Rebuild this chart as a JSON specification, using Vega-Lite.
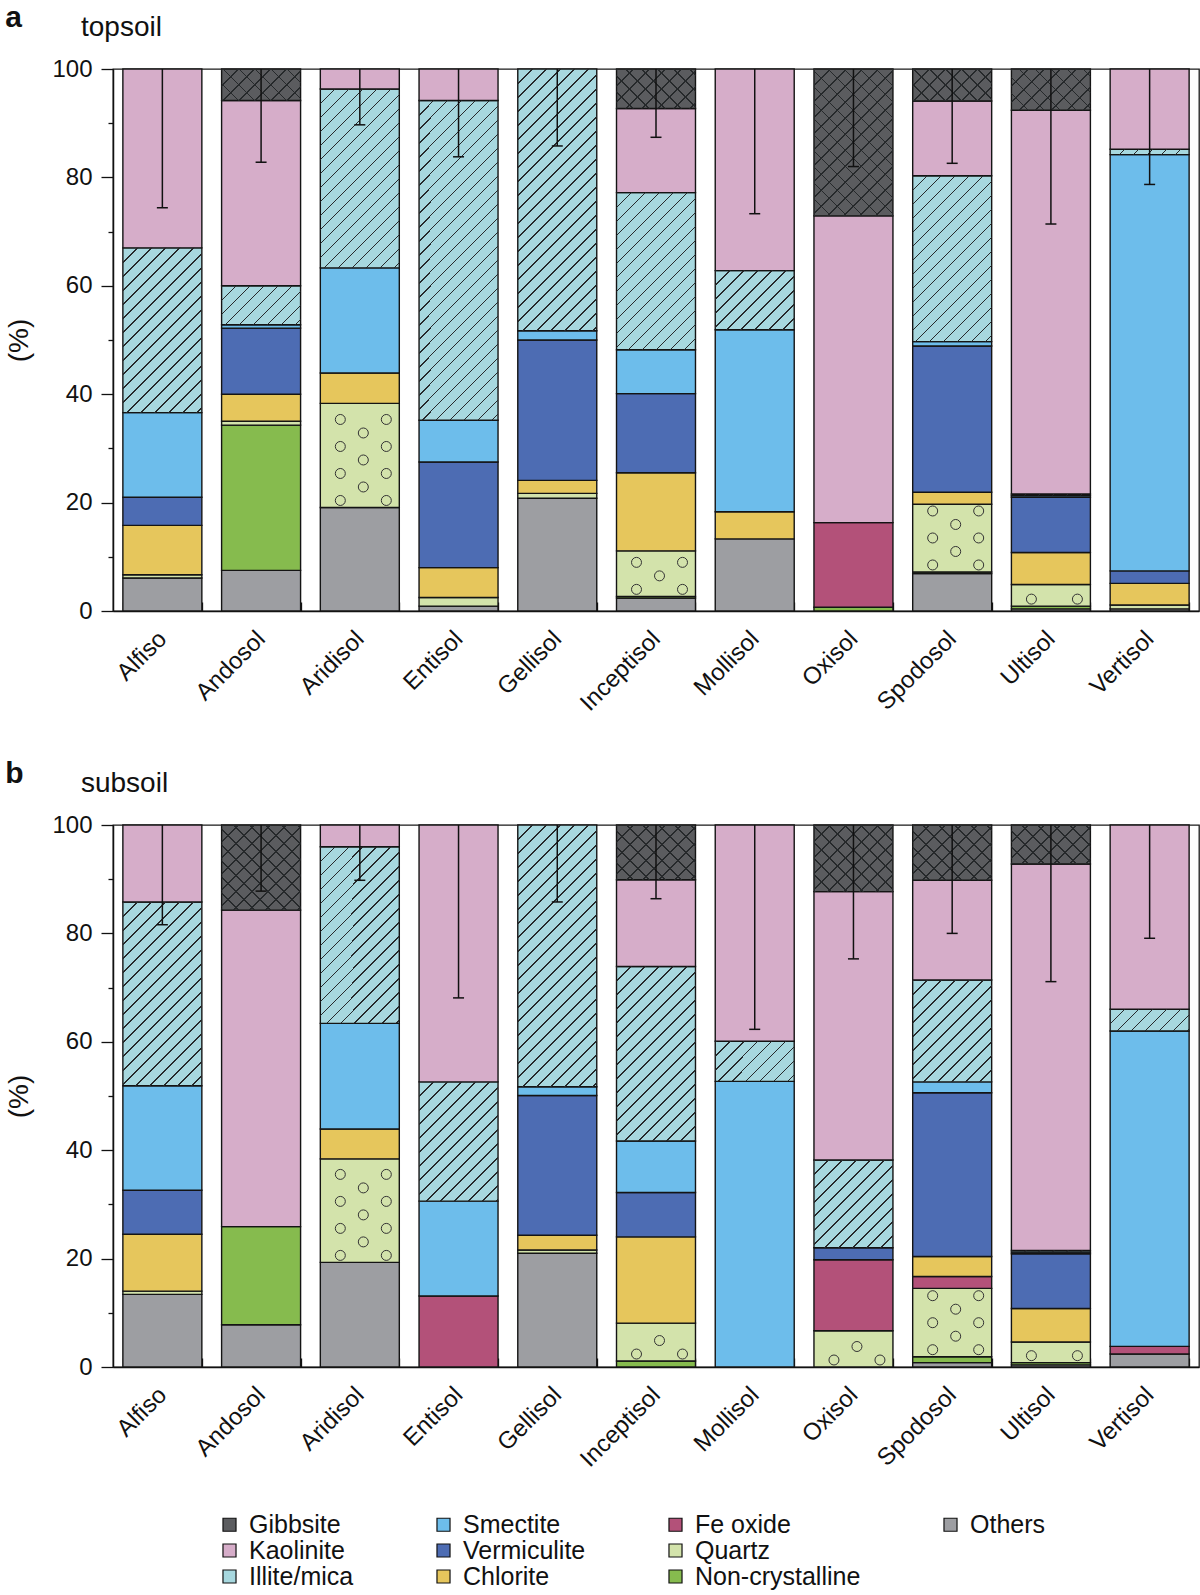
{
  "$schema": "https://vega.github.io/schema/vega-lite/v6.json",
  "padding": {"left": 5, "top": 3, "right": 0, "bottom": 0},
  "background": "white",
  "spacing": 43,
  "config": {
    "font": "Liberation Sans",
    "view": {"stroke": "#1a1a1a", "strokeWidth": 1.3},
    "axis": {"domainColor": "#111", "domainWidth": 1.5, "tickColor": "#111", "tickWidth": 1.3, "labelColor": "#111", "titleColor": "#111", "labelFont": "Liberation Sans", "titleFont": "Liberation Sans", "grid": false},
    "title": {"anchor": "start", "frame": "bounds", "font": "Liberation Sans", "color": "#111"}
  },
  "params": [
    {"name": "hatch", "value": [
      {"offset": 0, "color": "#26292b"}, {"offset": 0.0036, "color": "#26292b"}, {"offset": 0.0036, "color": "rgba(0,0,0,0)"}, {"offset": 0.033333, "color": "rgba(0,0,0,0)"},
      {"offset": 0.033333, "color": "#26292b"}, {"offset": 0.036933, "color": "#26292b"}, {"offset": 0.036933, "color": "rgba(0,0,0,0)"}, {"offset": 0.066667, "color": "rgba(0,0,0,0)"},
      {"offset": 0.066667, "color": "#26292b"}, {"offset": 0.070267, "color": "#26292b"}, {"offset": 0.070267, "color": "rgba(0,0,0,0)"}, {"offset": 0.1, "color": "rgba(0,0,0,0)"},
      {"offset": 0.1, "color": "#26292b"}, {"offset": 0.1036, "color": "#26292b"}, {"offset": 0.1036, "color": "rgba(0,0,0,0)"}, {"offset": 0.133333, "color": "rgba(0,0,0,0)"},
      {"offset": 0.133333, "color": "#26292b"}, {"offset": 0.136933, "color": "#26292b"}, {"offset": 0.136933, "color": "rgba(0,0,0,0)"}, {"offset": 0.166667, "color": "rgba(0,0,0,0)"},
      {"offset": 0.166667, "color": "#26292b"}, {"offset": 0.170267, "color": "#26292b"}, {"offset": 0.170267, "color": "rgba(0,0,0,0)"}, {"offset": 0.2, "color": "rgba(0,0,0,0)"},
      {"offset": 0.2, "color": "#26292b"}, {"offset": 0.2036, "color": "#26292b"}, {"offset": 0.2036, "color": "rgba(0,0,0,0)"}, {"offset": 0.233333, "color": "rgba(0,0,0,0)"},
      {"offset": 0.233333, "color": "#26292b"}, {"offset": 0.236933, "color": "#26292b"}, {"offset": 0.236933, "color": "rgba(0,0,0,0)"}, {"offset": 0.266667, "color": "rgba(0,0,0,0)"},
      {"offset": 0.266667, "color": "#26292b"}, {"offset": 0.270267, "color": "#26292b"}, {"offset": 0.270267, "color": "rgba(0,0,0,0)"}, {"offset": 0.3, "color": "rgba(0,0,0,0)"},
      {"offset": 0.3, "color": "#26292b"}, {"offset": 0.3036, "color": "#26292b"}, {"offset": 0.3036, "color": "rgba(0,0,0,0)"}, {"offset": 0.333333, "color": "rgba(0,0,0,0)"},
      {"offset": 0.333333, "color": "#26292b"}, {"offset": 0.336933, "color": "#26292b"}, {"offset": 0.336933, "color": "rgba(0,0,0,0)"}, {"offset": 0.366667, "color": "rgba(0,0,0,0)"},
      {"offset": 0.366667, "color": "#26292b"}, {"offset": 0.370267, "color": "#26292b"}, {"offset": 0.370267, "color": "rgba(0,0,0,0)"}, {"offset": 0.4, "color": "rgba(0,0,0,0)"},
      {"offset": 0.4, "color": "#26292b"}, {"offset": 0.4036, "color": "#26292b"}, {"offset": 0.4036, "color": "rgba(0,0,0,0)"}, {"offset": 0.433333, "color": "rgba(0,0,0,0)"},
      {"offset": 0.433333, "color": "#26292b"}, {"offset": 0.436933, "color": "#26292b"}, {"offset": 0.436933, "color": "rgba(0,0,0,0)"}, {"offset": 0.466667, "color": "rgba(0,0,0,0)"},
      {"offset": 0.466667, "color": "#26292b"}, {"offset": 0.470267, "color": "#26292b"}, {"offset": 0.470267, "color": "rgba(0,0,0,0)"}, {"offset": 0.5, "color": "rgba(0,0,0,0)"},
      {"offset": 0.5, "color": "#26292b"}, {"offset": 0.5036, "color": "#26292b"}, {"offset": 0.5036, "color": "rgba(0,0,0,0)"}, {"offset": 0.533333, "color": "rgba(0,0,0,0)"},
      {"offset": 0.533333, "color": "#26292b"}, {"offset": 0.536933, "color": "#26292b"}, {"offset": 0.536933, "color": "rgba(0,0,0,0)"}, {"offset": 0.566667, "color": "rgba(0,0,0,0)"},
      {"offset": 0.566667, "color": "#26292b"}, {"offset": 0.570267, "color": "#26292b"}, {"offset": 0.570267, "color": "rgba(0,0,0,0)"}, {"offset": 0.6, "color": "rgba(0,0,0,0)"},
      {"offset": 0.6, "color": "#26292b"}, {"offset": 0.6036, "color": "#26292b"}, {"offset": 0.6036, "color": "rgba(0,0,0,0)"}, {"offset": 0.633333, "color": "rgba(0,0,0,0)"},
      {"offset": 0.633333, "color": "#26292b"}, {"offset": 0.636933, "color": "#26292b"}, {"offset": 0.636933, "color": "rgba(0,0,0,0)"}, {"offset": 0.666667, "color": "rgba(0,0,0,0)"},
      {"offset": 0.666667, "color": "#26292b"}, {"offset": 0.670267, "color": "#26292b"}, {"offset": 0.670267, "color": "rgba(0,0,0,0)"}, {"offset": 0.7, "color": "rgba(0,0,0,0)"},
      {"offset": 0.7, "color": "#26292b"}, {"offset": 0.7036, "color": "#26292b"}, {"offset": 0.7036, "color": "rgba(0,0,0,0)"}, {"offset": 0.733333, "color": "rgba(0,0,0,0)"},
      {"offset": 0.733333, "color": "#26292b"}, {"offset": 0.736933, "color": "#26292b"}, {"offset": 0.736933, "color": "rgba(0,0,0,0)"}, {"offset": 0.766667, "color": "rgba(0,0,0,0)"},
      {"offset": 0.766667, "color": "#26292b"}, {"offset": 0.770267, "color": "#26292b"}, {"offset": 0.770267, "color": "rgba(0,0,0,0)"}, {"offset": 0.8, "color": "rgba(0,0,0,0)"},
      {"offset": 0.8, "color": "#26292b"}, {"offset": 0.8036, "color": "#26292b"}, {"offset": 0.8036, "color": "rgba(0,0,0,0)"}, {"offset": 0.833333, "color": "rgba(0,0,0,0)"},
      {"offset": 0.833333, "color": "#26292b"}, {"offset": 0.836933, "color": "#26292b"}, {"offset": 0.836933, "color": "rgba(0,0,0,0)"}, {"offset": 0.866667, "color": "rgba(0,0,0,0)"},
      {"offset": 0.866667, "color": "#26292b"}, {"offset": 0.870267, "color": "#26292b"}, {"offset": 0.870267, "color": "rgba(0,0,0,0)"}, {"offset": 0.9, "color": "rgba(0,0,0,0)"},
      {"offset": 0.9, "color": "#26292b"}, {"offset": 0.9036, "color": "#26292b"}, {"offset": 0.9036, "color": "rgba(0,0,0,0)"}, {"offset": 0.933333, "color": "rgba(0,0,0,0)"},
      {"offset": 0.933333, "color": "#26292b"}, {"offset": 0.936933, "color": "#26292b"}, {"offset": 0.936933, "color": "rgba(0,0,0,0)"}, {"offset": 0.966667, "color": "rgba(0,0,0,0)"},
      {"offset": 0.966667, "color": "#26292b"}, {"offset": 0.970267, "color": "#26292b"}, {"offset": 0.970267, "color": "rgba(0,0,0,0)"}, {"offset": 1, "color": "rgba(0,0,0,0)"}
    ]},
    {"name": "qRows", "value": [
      "M-14.5,-7A5,5,0,1,1,-24.5,-7A5,5,0,1,1,-14.5,-7M31.5,-7A5,5,0,1,1,21.5,-7A5,5,0,1,1,31.5,-7",
      "M8.5,-20.5A5,5,0,1,1,-1.5,-20.5A5,5,0,1,1,8.5,-20.5",
      "M-14.5,-34A5,5,0,1,1,-24.5,-34A5,5,0,1,1,-14.5,-34M31.5,-34A5,5,0,1,1,21.5,-34A5,5,0,1,1,31.5,-34",
      "M8.5,-47.5A5,5,0,1,1,-1.5,-47.5A5,5,0,1,1,8.5,-47.5",
      "M-14.5,-61A5,5,0,1,1,-24.5,-61A5,5,0,1,1,-14.5,-61M31.5,-61A5,5,0,1,1,21.5,-61A5,5,0,1,1,31.5,-61",
      "M8.5,-74.5A5,5,0,1,1,-1.5,-74.5A5,5,0,1,1,8.5,-74.5",
      "M-14.5,-88A5,5,0,1,1,-24.5,-88A5,5,0,1,1,-14.5,-88M31.5,-88A5,5,0,1,1,21.5,-88A5,5,0,1,1,31.5,-88"
    ]}
  ],
  "datasets": {
    "minerals": [
      {"mineral": "Others", "rank": 1}, {"mineral": "Non-crystalline", "rank": 2}, {"mineral": "Quartz", "rank": 3},
      {"mineral": "Fe oxide", "rank": 4}, {"mineral": "Chlorite", "rank": 5}, {"mineral": "Vermiculite", "rank": 6},
      {"mineral": "Smectite", "rank": 7}, {"mineral": "Illite/mica", "rank": 8}, {"mineral": "Kaolinite", "rank": 9},
      {"mineral": "Gibbsite", "rank": 10}
    ],
    "top": [
      {"soil": "Alfiso", "mineral": "Others", "value": 6.1}, {"soil": "Alfiso", "mineral": "Quartz", "value": 0.6}, {"soil": "Alfiso", "mineral": "Chlorite", "value": 9.1}, {"soil": "Alfiso", "mineral": "Vermiculite", "value": 5.2}, {"soil": "Alfiso", "mineral": "Smectite", "value": 15.6}, {"soil": "Alfiso", "mineral": "Illite/mica", "value": 30.4}, {"soil": "Alfiso", "mineral": "Kaolinite", "value": 33.0},
      {"soil": "Andosol", "mineral": "Others", "value": 7.5}, {"soil": "Andosol", "mineral": "Non-crystalline", "value": 26.8}, {"soil": "Andosol", "mineral": "Quartz", "value": 0.7}, {"soil": "Andosol", "mineral": "Chlorite", "value": 5.0}, {"soil": "Andosol", "mineral": "Vermiculite", "value": 12.2}, {"soil": "Andosol", "mineral": "Smectite", "value": 0.6}, {"soil": "Andosol", "mineral": "Illite/mica", "value": 7.2}, {"soil": "Andosol", "mineral": "Kaolinite", "value": 34.2}, {"soil": "Andosol", "mineral": "Gibbsite", "value": 5.8},
      {"soil": "Aridisol", "mineral": "Others", "value": 19.1}, {"soil": "Aridisol", "mineral": "Quartz", "value": 19.2}, {"soil": "Aridisol", "mineral": "Chlorite", "value": 5.6}, {"soil": "Aridisol", "mineral": "Smectite", "value": 19.4}, {"soil": "Aridisol", "mineral": "Illite/mica", "value": 33.0}, {"soil": "Aridisol", "mineral": "Kaolinite", "value": 3.7},
      {"soil": "Entisol", "mineral": "Others", "value": 0.9}, {"soil": "Entisol", "mineral": "Quartz", "value": 1.6}, {"soil": "Entisol", "mineral": "Chlorite", "value": 5.5}, {"soil": "Entisol", "mineral": "Vermiculite", "value": 19.5}, {"soil": "Entisol", "mineral": "Smectite", "value": 7.7}, {"soil": "Entisol", "mineral": "Illite/mica", "value": 59.0}, {"soil": "Entisol", "mineral": "Kaolinite", "value": 5.8},
      {"soil": "Gellisol", "mineral": "Others", "value": 20.8}, {"soil": "Gellisol", "mineral": "Quartz", "value": 0.9}, {"soil": "Gellisol", "mineral": "Chlorite", "value": 2.4}, {"soil": "Gellisol", "mineral": "Vermiculite", "value": 25.9}, {"soil": "Gellisol", "mineral": "Smectite", "value": 1.7}, {"soil": "Gellisol", "mineral": "Illite/mica", "value": 48.3},
      {"soil": "Inceptisol", "mineral": "Others", "value": 2.4}, {"soil": "Inceptisol", "mineral": "Non-crystalline", "value": 0.3}, {"soil": "Inceptisol", "mineral": "Quartz", "value": 8.4}, {"soil": "Inceptisol", "mineral": "Chlorite", "value": 14.4}, {"soil": "Inceptisol", "mineral": "Vermiculite", "value": 14.6}, {"soil": "Inceptisol", "mineral": "Smectite", "value": 8.1}, {"soil": "Inceptisol", "mineral": "Illite/mica", "value": 29.0}, {"soil": "Inceptisol", "mineral": "Kaolinite", "value": 15.5}, {"soil": "Inceptisol", "mineral": "Gibbsite", "value": 7.3},
      {"soil": "Mollisol", "mineral": "Others", "value": 13.3}, {"soil": "Mollisol", "mineral": "Chlorite", "value": 5.0}, {"soil": "Mollisol", "mineral": "Smectite", "value": 33.6}, {"soil": "Mollisol", "mineral": "Illite/mica", "value": 10.9}, {"soil": "Mollisol", "mineral": "Kaolinite", "value": 37.2},
      {"soil": "Oxisol", "mineral": "Non-crystalline", "value": 0.7}, {"soil": "Oxisol", "mineral": "Fe oxide", "value": 15.6}, {"soil": "Oxisol", "mineral": "Kaolinite", "value": 56.6}, {"soil": "Oxisol", "mineral": "Gibbsite", "value": 27.1},
      {"soil": "Spodosol", "mineral": "Others", "value": 6.9}, {"soil": "Spodosol", "mineral": "Non-crystalline", "value": 0.3}, {"soil": "Spodosol", "mineral": "Quartz", "value": 12.5}, {"soil": "Spodosol", "mineral": "Chlorite", "value": 2.2}, {"soil": "Spodosol", "mineral": "Vermiculite", "value": 27.0}, {"soil": "Spodosol", "mineral": "Smectite", "value": 0.8}, {"soil": "Spodosol", "mineral": "Illite/mica", "value": 30.6}, {"soil": "Spodosol", "mineral": "Kaolinite", "value": 13.8}, {"soil": "Spodosol", "mineral": "Gibbsite", "value": 5.9},
      {"soil": "Ultisol", "mineral": "Others", "value": 0.4}, {"soil": "Ultisol", "mineral": "Non-crystalline", "value": 0.5}, {"soil": "Ultisol", "mineral": "Quartz", "value": 4.0}, {"soil": "Ultisol", "mineral": "Chlorite", "value": 5.9}, {"soil": "Ultisol", "mineral": "Vermiculite", "value": 10.2}, {"soil": "Ultisol", "mineral": "Smectite", "value": 0.3}, {"soil": "Ultisol", "mineral": "Illite/mica", "value": 0.3}, {"soil": "Ultisol", "mineral": "Kaolinite", "value": 70.8}, {"soil": "Ultisol", "mineral": "Gibbsite", "value": 7.6},
      {"soil": "Vertisol", "mineral": "Others", "value": 0.4}, {"soil": "Vertisol", "mineral": "Quartz", "value": 0.7}, {"soil": "Vertisol", "mineral": "Chlorite", "value": 4.0}, {"soil": "Vertisol", "mineral": "Vermiculite", "value": 2.3}, {"soil": "Vertisol", "mineral": "Smectite", "value": 76.8}, {"soil": "Vertisol", "mineral": "Illite/mica", "value": 1.0}, {"soil": "Vertisol", "mineral": "Kaolinite", "value": 14.8}
    ],
    "sub": [
      {"soil": "Alfiso", "mineral": "Others", "value": 13.4}, {"soil": "Alfiso", "mineral": "Quartz", "value": 0.6}, {"soil": "Alfiso", "mineral": "Chlorite", "value": 10.5}, {"soil": "Alfiso", "mineral": "Vermiculite", "value": 8.1}, {"soil": "Alfiso", "mineral": "Smectite", "value": 19.3}, {"soil": "Alfiso", "mineral": "Illite/mica", "value": 33.9}, {"soil": "Alfiso", "mineral": "Kaolinite", "value": 14.2},
      {"soil": "Andosol", "mineral": "Others", "value": 7.8}, {"soil": "Andosol", "mineral": "Non-crystalline", "value": 18.1}, {"soil": "Andosol", "mineral": "Kaolinite", "value": 58.4}, {"soil": "Andosol", "mineral": "Gibbsite", "value": 15.7},
      {"soil": "Aridisol", "mineral": "Others", "value": 19.3}, {"soil": "Aridisol", "mineral": "Quartz", "value": 19.1}, {"soil": "Aridisol", "mineral": "Chlorite", "value": 5.5}, {"soil": "Aridisol", "mineral": "Smectite", "value": 19.5}, {"soil": "Aridisol", "mineral": "Illite/mica", "value": 32.6}, {"soil": "Aridisol", "mineral": "Kaolinite", "value": 4.0},
      {"soil": "Entisol", "mineral": "Fe oxide", "value": 13.1}, {"soil": "Entisol", "mineral": "Smectite", "value": 17.5}, {"soil": "Entisol", "mineral": "Illite/mica", "value": 22.0}, {"soil": "Entisol", "mineral": "Kaolinite", "value": 47.4},
      {"soil": "Gellisol", "mineral": "Others", "value": 21.0}, {"soil": "Gellisol", "mineral": "Quartz", "value": 0.6}, {"soil": "Gellisol", "mineral": "Chlorite", "value": 2.7}, {"soil": "Gellisol", "mineral": "Vermiculite", "value": 25.8}, {"soil": "Gellisol", "mineral": "Smectite", "value": 1.6}, {"soil": "Gellisol", "mineral": "Illite/mica", "value": 48.3},
      {"soil": "Inceptisol", "mineral": "Non-crystalline", "value": 1.1}, {"soil": "Inceptisol", "mineral": "Quartz", "value": 7.0}, {"soil": "Inceptisol", "mineral": "Chlorite", "value": 15.9}, {"soil": "Inceptisol", "mineral": "Vermiculite", "value": 8.2}, {"soil": "Inceptisol", "mineral": "Smectite", "value": 9.5}, {"soil": "Inceptisol", "mineral": "Illite/mica", "value": 32.2}, {"soil": "Inceptisol", "mineral": "Kaolinite", "value": 16.0}, {"soil": "Inceptisol", "mineral": "Gibbsite", "value": 10.1},
      {"soil": "Mollisol", "mineral": "Smectite", "value": 52.7}, {"soil": "Mollisol", "mineral": "Illite/mica", "value": 7.4}, {"soil": "Mollisol", "mineral": "Kaolinite", "value": 39.9},
      {"soil": "Oxisol", "mineral": "Quartz", "value": 6.7}, {"soil": "Oxisol", "mineral": "Fe oxide", "value": 13.1}, {"soil": "Oxisol", "mineral": "Vermiculite", "value": 2.2}, {"soil": "Oxisol", "mineral": "Illite/mica", "value": 16.2}, {"soil": "Oxisol", "mineral": "Kaolinite", "value": 49.5}, {"soil": "Oxisol", "mineral": "Gibbsite", "value": 12.3},
      {"soil": "Spodosol", "mineral": "Others", "value": 0.8}, {"soil": "Spodosol", "mineral": "Non-crystalline", "value": 1.1}, {"soil": "Spodosol", "mineral": "Quartz", "value": 12.6}, {"soil": "Spodosol", "mineral": "Fe oxide", "value": 2.2}, {"soil": "Spodosol", "mineral": "Chlorite", "value": 3.7}, {"soil": "Spodosol", "mineral": "Vermiculite", "value": 30.2}, {"soil": "Spodosol", "mineral": "Smectite", "value": 2.0}, {"soil": "Spodosol", "mineral": "Illite/mica", "value": 18.8}, {"soil": "Spodosol", "mineral": "Kaolinite", "value": 18.4}, {"soil": "Spodosol", "mineral": "Gibbsite", "value": 10.2},
      {"soil": "Ultisol", "mineral": "Others", "value": 0.4}, {"soil": "Ultisol", "mineral": "Non-crystalline", "value": 0.4}, {"soil": "Ultisol", "mineral": "Quartz", "value": 3.8}, {"soil": "Ultisol", "mineral": "Chlorite", "value": 6.2}, {"soil": "Ultisol", "mineral": "Vermiculite", "value": 10.1}, {"soil": "Ultisol", "mineral": "Smectite", "value": 0.3}, {"soil": "Ultisol", "mineral": "Illite/mica", "value": 0.3}, {"soil": "Ultisol", "mineral": "Kaolinite", "value": 71.3}, {"soil": "Ultisol", "mineral": "Gibbsite", "value": 7.2},
      {"soil": "Vertisol", "mineral": "Others", "value": 2.4}, {"soil": "Vertisol", "mineral": "Fe oxide", "value": 1.4}, {"soil": "Vertisol", "mineral": "Smectite", "value": 58.2}, {"soil": "Vertisol", "mineral": "Illite/mica", "value": 4.0}, {"soil": "Vertisol", "mineral": "Kaolinite", "value": 34.0}
    ],
    "topErr": [
      {"soil": "Alfiso", "lower": 74.4}, {"soil": "Andosol", "lower": 82.8}, {"soil": "Aridisol", "lower": 89.7}, {"soil": "Entisol", "lower": 83.8},
      {"soil": "Gellisol", "lower": 85.8}, {"soil": "Inceptisol", "lower": 87.4}, {"soil": "Mollisol", "lower": 73.3}, {"soil": "Oxisol", "lower": 82.0},
      {"soil": "Spodosol", "lower": 82.6}, {"soil": "Ultisol", "lower": 71.4}, {"soil": "Vertisol", "lower": 78.7}
    ],
    "subErr": [
      {"soil": "Alfiso", "lower": 81.6}, {"soil": "Andosol", "lower": 87.8}, {"soil": "Aridisol", "lower": 89.8}, {"soil": "Entisol", "lower": 68.1},
      {"soil": "Gellisol", "lower": 85.8}, {"soil": "Inceptisol", "lower": 86.4}, {"soil": "Mollisol", "lower": 62.3}, {"soil": "Oxisol", "lower": 75.3},
      {"soil": "Spodosol", "lower": 80.0}, {"soil": "Ultisol", "lower": 71.1}, {"soil": "Vertisol", "lower": 79.1}
    ]
  },
  "resolve": {"scale": {"fill": "shared"}, "legend": {"fill": "shared"}},
  "vconcat": [
    {
      "title": {"text": "a", "fontSize": 30, "fontWeight": "bold", "offset": -20},
      "resolve": {"scale": {"fill": "shared"}, "legend": {"fill": "shared"}},
      "vconcat": [
        {
          "title": {"text": "topsoil", "fontSize": 28, "fontWeight": "normal", "dx": 75, "offset": 15},
          "width": 1086,
          "height": 542,
          "layer": [
            {
              "data": {"name": "top"},
              "transform": [
                {"lookup": "mineral", "from": {"data": {"name": "minerals"}, "key": "mineral", "fields": ["rank"]}},
                {"stack": "value", "groupby": ["soil"], "sort": [{"field": "rank", "order": "ascending"}], "as": ["v0", "v1"]}
              ],
              "mark": {"type": "bar", "stroke": "#141414", "strokeWidth": 1.4},
              "encoding": {
                "x": {"field": "soil", "type": "nominal", "title": null,
                  "scale": {"domain": ["Alfiso", "Andosol", "Aridisol", "Entisol", "Gellisol", "Inceptisol", "Mollisol", "Oxisol", "Spodosol", "Ultisol", "Vertisol"], "paddingInner": 0.2, "paddingOuter": 0.1},
                  "axis": {"labelAngle": -45, "labelAlign": "right", "labelBaseline": "middle", "labelFontSize": 24, "labelPadding": 33, "tickBand": "extent", "tickSize": -9}},
                "y": {"field": "v0", "type": "quantitative", "title": "(%)", "scale": {"domain": [0, 100], "nice": false},
                  "axis": {"values": [0, 5, 10, 15, 20, 25, 30, 35, 40, 45, 50, 55, 60, 65, 70, 75, 80, 85, 90, 95, 100],
                    "labelExpr": "datum.value % 20 === 0 ? datum.label : ''",
                    "tickSize": {"condition": {"test": "datum.value % 20 === 0", "value": 12}, "value": 5},
                    "labelFontSize": 24, "labelPadding": 9, "titleFontSize": 28, "titleFontWeight": "normal", "titlePadding": 18}},
                "y2": {"field": "v1"},
                "fill": {"field": "mineral", "type": "nominal",
                  "scale": {"domain": ["Gibbsite", "Kaolinite", "Illite/mica", "Smectite", "Vermiculite", "Chlorite", "Fe oxide", "Quartz", "Non-crystalline", "Others", " "],
                    "range": ["#5b5c5f", "#d6adc9", "#a7d8df", "#6dbdeb", "#4d6cb3", "#e6c65c", "#b35179", "#d3e3ab", "#86bb4e", "#9d9ea2", "#ffffff"]},
                  "legend": {"orient": "none", "legendX": 104, "legendY": 1443, "title": null, "columns": 4, "symbolType": "square", "symbolSize": 170,
                    "symbolStrokeColor": "#111", "symbolStrokeWidth": 1.2, "labelFont": "Liberation Sans", "labelFontSize": 25, "labelColor": "#111",
                    "labelOffset": 7, "labelLimit": 300, "rowPadding": -2, "columnPadding": 77, "gridAlign": "each",
                    "encode": {"symbols": {"update": {"opacity": {"signal": "datum.value === ' ' ? 0 : 1"}}}}}}
              }
            },
            {
              "data": {"name": "top"},
              "transform": [
                {"lookup": "mineral", "from": {"data": {"name": "minerals"}, "key": "mineral", "fields": ["rank"]}},
                {"stack": "value", "groupby": ["soil"], "sort": [{"field": "rank", "order": "ascending"}], "as": ["v0", "v1"]},
                {"filter": "datum.mineral === 'Illite/mica'"}
              ],
              "mark": {"type": "bar", "fill": {"expr": "{gradient: 'linear', x1: 0, y1: 0, x2: 33180 / (6241 + pow((datum.v1 - datum.v0) * 5.42, 2)), y2: (datum.v1 - datum.v0) * 2276.4 / (6241 + pow((datum.v1 - datum.v0) * 5.42, 2)), stops: hatch}"}},
              "encoding": {
                "x": {"field": "soil", "type": "nominal", "title": null},
                "y": {"field": "v0", "type": "quantitative", "title": "(%)"},
                "y2": {"field": "v1"}
              }
            },
            {
              "data": {"name": "top"},
              "transform": [
                {"lookup": "mineral", "from": {"data": {"name": "minerals"}, "key": "mineral", "fields": ["rank"]}},
                {"stack": "value", "groupby": ["soil"], "sort": [{"field": "rank", "order": "ascending"}], "as": ["v0", "v1"]},
                {"filter": "datum.mineral === 'Gibbsite'"}
              ],
              "mark": {"type": "bar", "fill": {"expr": "{gradient: 'linear', x1: 0, y1: 0, x2: 37920 / (6241 + pow((datum.v1 - datum.v0) * 5.42, 2)), y2: (datum.v1 - datum.v0) * 2601.6 / (6241 + pow((datum.v1 - datum.v0) * 5.42, 2)), stops: hatch}"}},
              "encoding": {
                "x": {"field": "soil", "type": "nominal", "title": null},
                "y": {"field": "v0", "type": "quantitative", "title": "(%)"},
                "y2": {"field": "v1"}
              }
            },
            {
              "data": {"name": "top"},
              "transform": [
                {"lookup": "mineral", "from": {"data": {"name": "minerals"}, "key": "mineral", "fields": ["rank"]}},
                {"stack": "value", "groupby": ["soil"], "sort": [{"field": "rank", "order": "ascending"}], "as": ["v0", "v1"]},
                {"filter": "datum.mineral === 'Gibbsite'"}
              ],
              "mark": {"type": "bar", "fill": {"expr": "{gradient: 'linear', x1: 0, y1: 1, x2: 37920 / (6241 + pow((datum.v1 - datum.v0) * 5.42, 2)), y2: 1 - (datum.v1 - datum.v0) * 2601.6 / (6241 + pow((datum.v1 - datum.v0) * 5.42, 2)), stops: hatch}"}},
              "encoding": {
                "x": {"field": "soil", "type": "nominal", "title": null},
                "y": {"field": "v0", "type": "quantitative", "title": "(%)"},
                "y2": {"field": "v1"}
              }
            },
            {
              "data": {"name": "top"},
              "transform": [
                {"lookup": "mineral", "from": {"data": {"name": "minerals"}, "key": "mineral", "fields": ["rank"]}},
                {"stack": "value", "groupby": ["soil"], "sort": [{"field": "rank", "order": "ascending"}], "as": ["v0", "v1"]},
                {"filter": "datum.mineral === 'Quartz' && datum.v1 - datum.v0 > 2.3"}
              ],
              "mark": {"type": "point", "filled": false, "stroke": "#333", "strokeWidth": 1, "opacity": 1, "size": 4,
                "shape": {"expr": "join(slice(qRows, 0, clamp(floor(((datum.v1 - datum.v0) * 5.42 + 2) / 13.5), 1, 7)), '')"}},
              "encoding": {
                "x": {"field": "soil", "type": "nominal", "title": null},
                "y": {"field": "v0", "type": "quantitative", "title": "(%)"}
              }
            },
            {
              "data": {"name": "topErr"},
              "mark": {"type": "rule", "color": "#111", "strokeWidth": 1.5},
              "encoding": {
                "x": {"field": "soil", "type": "nominal", "title": null},
                "y": {"field": "lower", "type": "quantitative", "title": "(%)"},
                "y2": {"datum": 100}
              }
            },
            {
              "data": {"name": "topErr"},
              "mark": {"type": "tick", "color": "#111", "thickness": 1.5, "size": 11, "opacity": 1},
              "encoding": {
                "x": {"field": "soil", "type": "nominal", "title": null},
                "y": {"field": "lower", "type": "quantitative", "title": "(%)"}
              }
            }
          ]
        }
      ]
    },
    {
      "title": {"text": "b", "fontSize": 30, "fontWeight": "bold", "offset": -20},
      "resolve": {"scale": {"fill": "shared"}, "legend": {"fill": "shared"}},
      "vconcat": [
        {
          "title": {"text": "subsoil", "fontSize": 28, "fontWeight": "normal", "dx": 75, "offset": 15},
          "width": 1086,
          "height": 542,
          "layer": [
            {
              "data": {"name": "sub"},
              "transform": [
                {"lookup": "mineral", "from": {"data": {"name": "minerals"}, "key": "mineral", "fields": ["rank"]}},
                {"stack": "value", "groupby": ["soil"], "sort": [{"field": "rank", "order": "ascending"}], "as": ["v0", "v1"]}
              ],
              "mark": {"type": "bar", "stroke": "#141414", "strokeWidth": 1.4},
              "encoding": {
                "x": {"field": "soil", "type": "nominal", "title": null,
                  "scale": {"domain": ["Alfiso", "Andosol", "Aridisol", "Entisol", "Gellisol", "Inceptisol", "Mollisol", "Oxisol", "Spodosol", "Ultisol", "Vertisol"], "paddingInner": 0.2, "paddingOuter": 0.1},
                  "axis": {"labelAngle": -45, "labelAlign": "right", "labelBaseline": "middle", "labelFontSize": 24, "labelPadding": 33, "tickBand": "extent", "tickSize": -9}},
                "y": {"field": "v0", "type": "quantitative", "title": "(%)", "scale": {"domain": [0, 100], "nice": false},
                  "axis": {"values": [0, 5, 10, 15, 20, 25, 30, 35, 40, 45, 50, 55, 60, 65, 70, 75, 80, 85, 90, 95, 100],
                    "labelExpr": "datum.value % 20 === 0 ? datum.label : ''",
                    "tickSize": {"condition": {"test": "datum.value % 20 === 0", "value": 12}, "value": 5},
                    "labelFontSize": 24, "labelPadding": 9, "titleFontSize": 28, "titleFontWeight": "normal", "titlePadding": 18}},
                "y2": {"field": "v1"},
                "fill": {"field": "mineral", "type": "nominal",
                  "scale": {"domain": ["Gibbsite", "Kaolinite", "Illite/mica", "Smectite", "Vermiculite", "Chlorite", "Fe oxide", "Quartz", "Non-crystalline", "Others", " "],
                    "range": ["#5b5c5f", "#d6adc9", "#a7d8df", "#6dbdeb", "#4d6cb3", "#e6c65c", "#b35179", "#d3e3ab", "#86bb4e", "#9d9ea2", "#ffffff"]}}
              }
            },
            {
              "data": {"name": "sub"},
              "transform": [
                {"lookup": "mineral", "from": {"data": {"name": "minerals"}, "key": "mineral", "fields": ["rank"]}},
                {"stack": "value", "groupby": ["soil"], "sort": [{"field": "rank", "order": "ascending"}], "as": ["v0", "v1"]},
                {"filter": "datum.mineral === 'Illite/mica'"}
              ],
              "mark": {"type": "bar", "fill": {"expr": "{gradient: 'linear', x1: 0, y1: 0, x2: 33180 / (6241 + pow((datum.v1 - datum.v0) * 5.42, 2)), y2: (datum.v1 - datum.v0) * 2276.4 / (6241 + pow((datum.v1 - datum.v0) * 5.42, 2)), stops: hatch}"}},
              "encoding": {
                "x": {"field": "soil", "type": "nominal", "title": null},
                "y": {"field": "v0", "type": "quantitative", "title": "(%)"},
                "y2": {"field": "v1"}
              }
            },
            {
              "data": {"name": "sub"},
              "transform": [
                {"lookup": "mineral", "from": {"data": {"name": "minerals"}, "key": "mineral", "fields": ["rank"]}},
                {"stack": "value", "groupby": ["soil"], "sort": [{"field": "rank", "order": "ascending"}], "as": ["v0", "v1"]},
                {"filter": "datum.mineral === 'Gibbsite'"}
              ],
              "mark": {"type": "bar", "fill": {"expr": "{gradient: 'linear', x1: 0, y1: 0, x2: 37920 / (6241 + pow((datum.v1 - datum.v0) * 5.42, 2)), y2: (datum.v1 - datum.v0) * 2601.6 / (6241 + pow((datum.v1 - datum.v0) * 5.42, 2)), stops: hatch}"}},
              "encoding": {
                "x": {"field": "soil", "type": "nominal", "title": null},
                "y": {"field": "v0", "type": "quantitative", "title": "(%)"},
                "y2": {"field": "v1"}
              }
            },
            {
              "data": {"name": "sub"},
              "transform": [
                {"lookup": "mineral", "from": {"data": {"name": "minerals"}, "key": "mineral", "fields": ["rank"]}},
                {"stack": "value", "groupby": ["soil"], "sort": [{"field": "rank", "order": "ascending"}], "as": ["v0", "v1"]},
                {"filter": "datum.mineral === 'Gibbsite'"}
              ],
              "mark": {"type": "bar", "fill": {"expr": "{gradient: 'linear', x1: 0, y1: 1, x2: 37920 / (6241 + pow((datum.v1 - datum.v0) * 5.42, 2)), y2: 1 - (datum.v1 - datum.v0) * 2601.6 / (6241 + pow((datum.v1 - datum.v0) * 5.42, 2)), stops: hatch}"}},
              "encoding": {
                "x": {"field": "soil", "type": "nominal", "title": null},
                "y": {"field": "v0", "type": "quantitative", "title": "(%)"},
                "y2": {"field": "v1"}
              }
            },
            {
              "data": {"name": "sub"},
              "transform": [
                {"lookup": "mineral", "from": {"data": {"name": "minerals"}, "key": "mineral", "fields": ["rank"]}},
                {"stack": "value", "groupby": ["soil"], "sort": [{"field": "rank", "order": "ascending"}], "as": ["v0", "v1"]},
                {"filter": "datum.mineral === 'Quartz' && datum.v1 - datum.v0 > 2.3"}
              ],
              "mark": {"type": "point", "filled": false, "stroke": "#333", "strokeWidth": 1, "opacity": 1, "size": 4,
                "shape": {"expr": "join(slice(qRows, 0, clamp(floor(((datum.v1 - datum.v0) * 5.42 + 2) / 13.5), 1, 7)), '')"}},
              "encoding": {
                "x": {"field": "soil", "type": "nominal", "title": null},
                "y": {"field": "v0", "type": "quantitative", "title": "(%)"}
              }
            },
            {
              "data": {"name": "subErr"},
              "mark": {"type": "rule", "color": "#111", "strokeWidth": 1.5},
              "encoding": {
                "x": {"field": "soil", "type": "nominal", "title": null},
                "y": {"field": "lower", "type": "quantitative", "title": "(%)"},
                "y2": {"datum": 100}
              }
            },
            {
              "data": {"name": "subErr"},
              "mark": {"type": "tick", "color": "#111", "thickness": 1.5, "size": 11, "opacity": 1},
              "encoding": {
                "x": {"field": "soil", "type": "nominal", "title": null},
                "y": {"field": "lower", "type": "quantitative", "title": "(%)"}
              }
            }
          ]
        }
      ]
    }
  ]
}
